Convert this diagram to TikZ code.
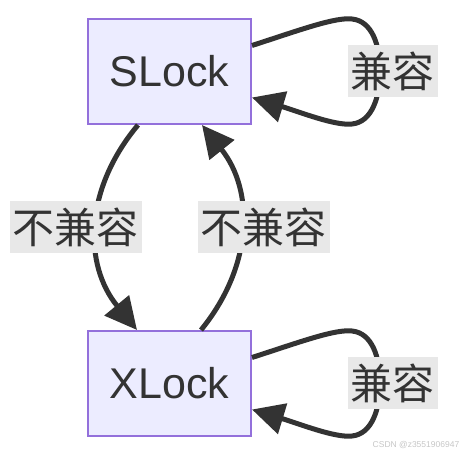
\documentclass[tikz,border=0pt]{standalone}
\usepackage{fontspec}
\setmainfont{Liberation Sans}
\newfontfamily\cjk{Noto Sans CJK SC}
\usetikzlibrary{arrows.meta}

\definecolor{boxfill}{HTML}{ECECFF}
\definecolor{boxline}{HTML}{9370DB}
\definecolor{inkcol}{HTML}{333333}
\definecolor{lblfill}{HTML}{E8E8E8}

\tikzset{
    lockbox/.style={draw=boxline, fill=boxfill, line width=2pt, minimum width=163pt, minimum height=105pt, inner sep=0pt, text=inkcol, font=\fontsize{43}{50}\selectfont},
    edgelbl/.style={fill=lblfill, minimum height=52pt, inner xsep=3pt, inner ysep=0pt, text=inkcol, font=\cjk\fontsize{42}{48}\selectfont},
    relation/.style={draw=inkcol, line width=5pt, -{Triangle[length=32pt,width=31pt]}}
}

\begin{document}
\begin{tikzpicture}[x=1pt, y=-1pt]
            \useasboundingbox ( 0, 0 ) rectangle ( 474, 455 );

            % locks
            \node [lockbox] (slock) at ( 169.5, 71.5 ) {SLock};
            \node [lockbox] (xlock) at ( 169.5, 383.5 ) {XLock};

            % between the locks
            \draw [relation] ([xshift=-31.5pt]slock.south) .. controls ( 83.5, 190 ) and ( 83.5, 265 ) .. ([xshift=-32.5pt]xlock.north);
            \draw [relation] ([xshift=31.5pt]xlock.north) .. controls ( 254, 265 ) and ( 254, 190 ) .. ([xshift=32.5pt]slock.south);

            % loops
            \draw [relation] ([yshift=26pt]slock.east) .. controls ( 300, 30 ) and ( 335, 17 ) .. ( 352, 19 ) .. controls ( 372, 21 ) and ( 380, 45 ) .. ( 380, 71 ) .. controls ( 380, 97 ) and ( 372, 122 ) .. ( 352, 124 ) .. controls ( 335, 126 ) and ( 300, 112 ) .. ([yshift=-26pt]slock.east);
            \draw [relation] ([yshift=26pt]xlock.east) .. controls ( 300, 342 ) and ( 335, 329 ) .. ( 352, 331 ) .. controls ( 372, 333 ) and ( 380, 357 ) .. ( 380, 383 ) .. controls ( 380, 409 ) and ( 372, 434 ) .. ( 352, 436 ) .. controls ( 335, 438 ) and ( 300, 424 ) .. ([yshift=-26pt]xlock.east);

            % labels
            \node [edgelbl] (lblsx) at ( 75.5, 227 ) {不兼容};
            \node [edgelbl] (lblxs) at ( 263.5, 227 ) {不兼容};
            \node [edgelbl] (lblss) at ( 392.5, 71 ) {兼容};
            \node [edgelbl] (lblxx) at ( 392.5, 383 ) {兼容};

            % watermark
            \node [text=gray!45, font=\fontsize{8.5}{10}\selectfont] (mark) at ( 416, 445 ) {CSDN @z3551906947};
        \end{tikzpicture}
\end{document}
